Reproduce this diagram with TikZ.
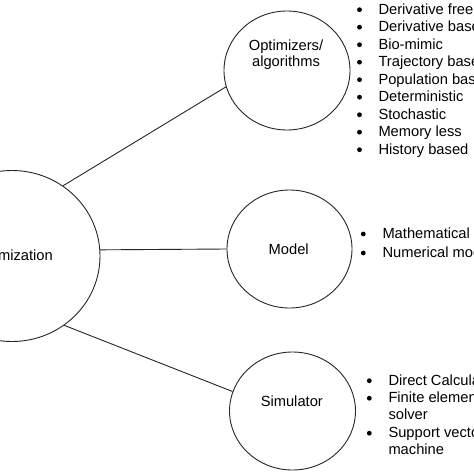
\documentclass[tikz,border=0pt]{standalone}
\usepackage{fontspec}
\setmainfont{Liberation Sans}
\usetikzlibrary{shapes.geometric}
\tikzset{
  bubble/.style={draw=black!85, line width=0.9pt, ellipse, inner sep=0pt},
  conn/.style={draw=black!85, line width=0.9pt},
  txt/.style={inner sep=0pt, anchor=base, font=\fontsize{14.7}{16.5}\selectfont, text=black},
  item/.style={inner sep=0pt, anchor=base west, font=\fontsize{14.7}{17.6}\selectfont, text=black},
  dot/.style={circle, fill=black, inner sep=0pt, minimum size=4.8pt}
}
\begin{document}
\begin{tikzpicture}[x=1pt,y=-1pt]
\useasboundingbox (0,0) rectangle (474,474);
\fill[white] (0,0) rectangle (474,474);
\clip (0,0) rectangle (474,474);
% bubbles
\node[bubble, minimum width=176pt, minimum height=171pt] (main) at (12,256) {};
\node[bubble, minimum width=126pt, minimum height=119pt] (opt) at (287,70.5) {};
\node[bubble, minimum width=125pt, minimum height=118pt] (model) at (289.5,249) {};
\node[bubble, minimum width=126pt, minimum height=118pt] (sim) at (292.5,411) {};
% bubble texts
\node[txt] (maintext) at (12,260) {Optimization};
\node[txt, align=center] (opttext) at (286,66.5) {Optimizers/\\algorithms};
\node[txt] (modeltext) at (288.7,254) {Model};
\node[txt] (simtext) at (291.8,406) {Simulator};
% connectors
\draw[conn] (main.54.3) -- (opt.195.4);
\draw[conn] (main.4.5) -- (model.180);
\draw[conn] (main.-53.1) -- (sim.162);
% optimizer list
\foreach \t [count=\i] in {Derivative free,Derivative based,Bio-mimic,Trajectory based,Population based,Deterministic,Stochastic,Memory less,History based}{
  \node[dot] (ob\i) at (359.5,{14-4.3+(\i-1)*17.5}) {};
  \node[item] (oi\i) at (378.3,{14+(\i-1)*17.5}) {\t};
}
% model list
\node[dot] (mb1) at (363.3,234) {};
\node[item] (mi1) at (382.3,238.3) {Mathematical model};
\node[dot] (mb2) at (363.3,253) {};
\node[item] (mi2) at (382.3,257.3) {Numerical model};
% simulator list
\node[dot] (sb1) at (369.3,380.7) {};
\node[item] (si1) at (388.3,385) {Direct Calculation};
\node[dot] (sb2) at (369.3,398.2) {};
\node[item] (si2) at (388.3,402.5) {Finite element};
\node[item] (si2b) at (388.3,419.5) {solver};
\node[dot] (sb3) at (369.3,433.2) {};
\node[item] (si3) at (388.3,437.5) {Support vector};
\node[item] (si3b) at (388.3,454) {machine};
\end{tikzpicture}
\end{document}
